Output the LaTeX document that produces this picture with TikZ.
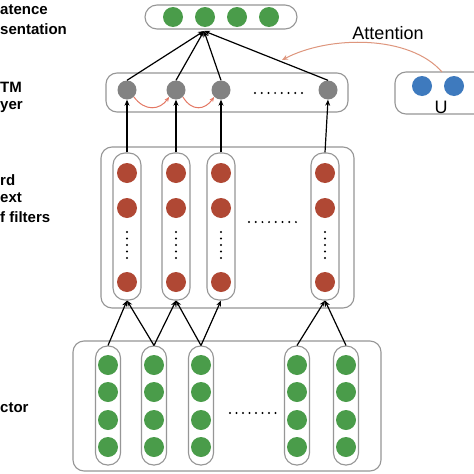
\documentclass[tikz,border=0pt]{standalone}
\usepackage{fontspec}
\setmainfont{Liberation Sans}
\usetikzlibrary{arrows.meta}
\definecolor{gr}{RGB}{74,156,74}
\definecolor{rd}{RGB}{176,72,52}
\definecolor{gy}{RGB}{130,130,130}
\definecolor{bl}{RGB}{62,122,190}
\definecolor{bx}{RGB}{150,150,150}
\definecolor{att}{RGB}{222,150,125}
\tikzset{
  dotg/.style={circle,fill=gr,draw=none,minimum size=20pt,inner sep=0pt},
  dotr/.style={circle,fill=rd,draw=none,minimum size=20pt,inner sep=0pt},
  dotgy/.style={circle,fill=gy,draw=none,minimum size=19pt,inner sep=0pt},
  dotb/.style={circle,fill=bl,draw=none,minimum size=20pt,inner sep=0pt},
  panel/.style={draw=bx,line width=1.1pt,rounded corners=11pt},
  capsule/.style={draw=bx,line width=1.1pt,rounded corners=12pt,rectangle,inner sep=0pt},
  arr/.style={-{Stealth[length=6pt,width=5pt]},line width=1.2pt,black},
  lbl/.style={font=\bfseries\fontsize{15}{17}\selectfont,anchor=west,inner sep=0pt},
  tinydot/.style={circle,fill=black,inner sep=0pt,minimum size=2.2pt}
}
\begin{document}
\begin{tikzpicture}[x=1pt,y=-1pt]
\clip (0,0) rectangle (474,474);
\fill[white] (0,0) rectangle (474,474);

% left labels
\node[lbl] (l1) at (0,10) {atence};
\node[lbl] (l2) at (0,29) {sentation};
\node[lbl] (l3) at (0,87) {TM};
\node[lbl] (l4) at (0,107) {yer};
\node[lbl] (l5) at (0,180) {rd};
\node[lbl] (l6) at (0,198) {ext};
\node[lbl] (l7) at (0,217) {f filters};
\node[lbl] (l8) at (0,408) {ctor};

% top sentence box
\draw[panel,rounded corners=12pt] (145,5) rectangle (297,29);
\node[dotg] (s1) at (173,17) {};
\node[dotg] (s2) at (205,17) {};
\node[dotg] (s3) at (237,17) {};
\node[dotg] (s4) at (269,17) {};
\coordinate (sin) at (204,31);

% LSTM box
\draw[panel] (106,73) rectangle (348,112);
\node[dotgy] (h1) at (127,90) {};
\node[dotgy] (h2) at (176,90) {};
\node[dotgy] (h3) at (221,90) {};
\node[dotgy] (h4) at (328,90) {};
\foreach \i in {0,...,7} {\node[tinydot] (hd\i) at (255+\i*6.7,93) {};}

% U box
\draw[panel] (395,72) rectangle (495,114);
\node[dotb] (u1) at (422,86) {};
\node[dotb] (u2) at (454,86) {};
\node[font=\fontsize{18}{20}\selectfont,inner sep=0pt] (ulbl) at (441,107) {U};
\coordinate (ustart) at (442,72);
\coordinate (aend) at (282,60);
\node[font=\fontsize{18}{20}\selectfont,inner sep=0pt] (attlbl) at (388,33) {Attention};
\draw[-{Stealth[length=6pt,width=5pt]},att,line width=1pt] (ustart) .. controls (410,35) and (330,35) .. (aend);

% filter box
\draw[panel] (101,147) rectangle (354,308);
\foreach \n/\x in {1/127,2/176,3/221,4/325} {
  \node[capsule,minimum width=28pt,minimum height=147pt] (c\n) at (\x,226.5) {};
  \node[dotr] (r\n a) at (\x,173) {};
  \node[dotr] (r\n b) at (\x,208) {};
  \node[dotr] (r\n c) at (\x,282) {};
  \foreach \k in {0,...,4} {\node[tinydot] at (\x,232+\k*6.5) {};}
}
\foreach \i in {0,...,7} {\node[tinydot] (fd\i) at (249+\i*6.7,222) {};}

% bottom word vector box
\draw[panel] (73,341) rectangle (381,471);
\foreach \n/\x in {1/108,2/154,3/201,4/297,5/346} {
  \node[capsule,minimum width=25pt,minimum height=119pt] (w\n) at (\x,405.5) {};
  \node[dotg] (g\n a) at (\x,365) {};
  \node[dotg] (g\n b) at (\x,392) {};
  \node[dotg] (g\n c) at (\x,420) {};
  \node[dotg] (g\n d) at (\x,447) {};
}
\foreach \i in {0,...,7} {\node[tinydot] (bd\i) at (230+\i*6.5,413) {};}

% arrows word vectors -> filters
\draw[arr] (w1.north) -- (c1.south);
\draw[arr] (w2.north) -- (c1.south);
\draw[arr] (w2.north) -- (c2.south);
\draw[arr] (w3.north) -- (c2.south);
\draw[arr] (w3.north) -- (c3.south);
\draw[arr] (w4.north) -- (c4.south);
\draw[arr] (w5.north) -- (c4.south);

% arrows filters -> LSTM
\foreach \n in {1,2,3,4} {\draw[arr] (c\n.north) -- (h\n.south);}

% arrows LSTM -> sentence
\foreach \n in {1,2,3,4} {\draw[arr] (h\n.north) -- (sin);}

% recurrent arrows
\draw[-{Stealth[length=5pt,width=4pt]},att!80!red,line width=1pt] (h1.south east) .. controls (145,112) and (160,110) .. (h2.south west);
\draw[-{Stealth[length=5pt,width=4pt]},att!80!red,line width=1pt] (h2.south east) .. controls (192,112) and (205,110) .. (h3.south west);
\end{tikzpicture}
\end{document}
